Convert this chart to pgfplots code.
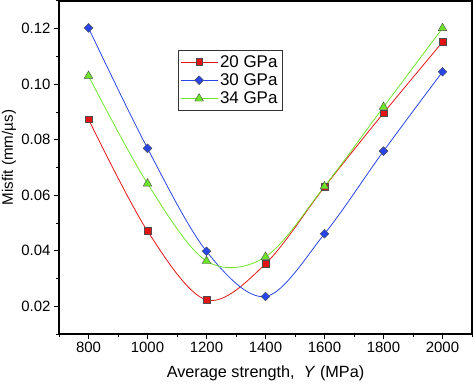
\documentclass[border=0pt]{standalone}
\usepackage{fontspec}
\setmainfont{Liberation Sans}
\usepackage{pgfplots}
\pgfplotsset{compat=1.18}
\definecolor{cred}{RGB}{228,20,20}
\definecolor{cblue}{RGB}{40,70,230}
\definecolor{cgreen}{RGB}{110,228,40}
\begin{document}
\begin{tikzpicture}
\begin{axis}[
  scale only axis, width=413bp, height=333bp,
  xmin=700, xmax=2100, ymin=0.01, ymax=0.13,
  xtick={800,1000,...,2000}, minor xtick={700,900,...,2100},
  ytick={0.02,0.04,...,0.121}, minor ytick={0.01,0.03,...,0.131},
  tick align=outside, major tick length=5bp, minor tick length=3bp,
  tick style={black, line width=1pt},
  axis line style={line width=1.2pt},
  xtick pos=bottom, ytick pos=left,
  /pgf/number format/assume math mode=true,
  yticklabel style={/pgf/number format/.cd, fixed, fixed zerofill, precision=2},
  xticklabel style={/pgf/number format/1000 sep={}},
  every tick label/.append style={font=\fontsize{15}{18}\selectfont},
  xlabel={Average strength,\ \ \textit{Y} (MPa)},
  ylabel={Misfit (mm/µs)},
  xlabel style={font=\fontsize{16.3}{19}\selectfont, yshift=-6bp},
  ylabel style={font=\fontsize{15.2}{18}\selectfont, at={(ticklabel cs:0.53)}, yshift=-1.5bp},
  legend style={at={(0.288,0.853)}, anchor=north west, draw=black!80, line width=0.6pt,
    font=\fontsize{17}{20}\selectfont, row sep=0bp, inner sep=2.5bp,
    nodes={inner sep=2.5bp}},
  legend cell align=left,
  legend image code/.code={\draw[mark repeat=2,mark phase=2] plot coordinates {(0bp,0bp)(18bp,0bp)(36bp,0bp)};},
]
\addplot[cred, line width=0.8pt, smooth, tension=0.55, mark=square*, mark size=3.4bp,
  mark options={fill=cred, draw=black!70, line width=0.4pt}] coordinates {
  (800,0.0874) (1000,0.0471) (1200,0.0223) (1400,0.0353) (1600,0.0630) (1800,0.0896) (2000,0.1152)};
\addlegendentry{20 GPa}
\addplot[cblue, line width=0.8pt, smooth, tension=0.55, mark=square*, mark size=3.1bp,
  mark options={fill=cblue, draw=black!70, line width=0.4pt, rotate=45}] coordinates {
  (800,0.1203) (1000,0.0769) (1200,0.0398) (1400,0.0235) (1600,0.0461) (1800,0.0759) (2000,0.1045)};
\addlegendentry{30 GPa}
\addplot[cgreen, line width=0.8pt, smooth, tension=0.55, mark=triangle*, mark size=5bp,
  mark options={fill=cgreen, draw=black!70, line width=0.4pt}] coordinates {
  (800,0.1030) (1000,0.0642) (1200,0.0363) (1400,0.0378) (1600,0.0632) (1800,0.0918) (2000,0.1202)};
\addlegendentry{34 GPa}
\end{axis}
\pgfresetboundingbox
\path[use as bounding box] ([xshift=-59bp,yshift=-52bp]current axis.south west) rectangle ([xshift=2bp,yshift=1bp]current axis.north east);
\end{tikzpicture}
\end{document}
